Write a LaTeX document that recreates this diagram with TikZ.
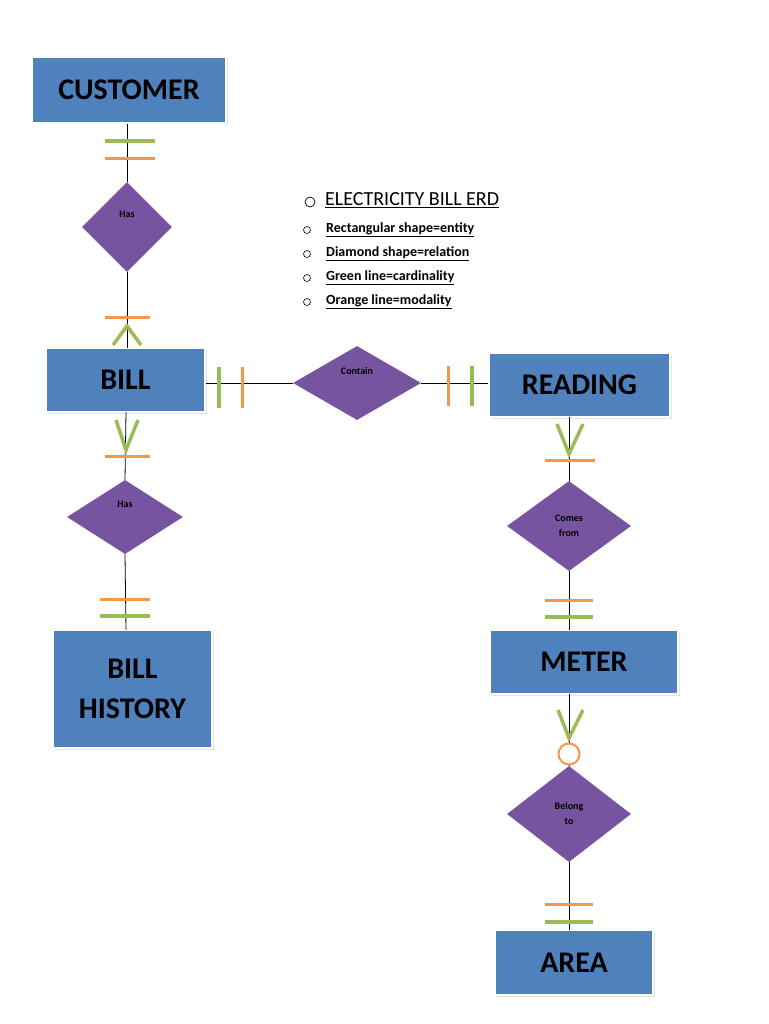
\documentclass[tikz,border=0pt]{standalone}
\usepackage{fontspec}
\setmainfont{Carlito}
\usetikzlibrary{shapes.geometric,shadows}
\definecolor{ent}{HTML}{4F81BD}
\definecolor{rel}{HTML}{7654A0}
\definecolor{gbar}{HTML}{9BBB59}
\definecolor{obar}{HTML}{F79646}
\begin{document}
\begin{tikzpicture}[x=1pt,y=-1pt,
  entity/.style={rectangle,fill=ent,draw=white,line width=2.5pt,inner sep=0pt,
    drop shadow={shadow xshift=2pt,shadow yshift=-2pt,fill=gray!45},
    font=\fontsize{30}{36}\selectfont\bfseries,align=center},
  relation/.style={diamond,fill=rel,draw=none,inner sep=0pt,aspect=1,
    font=\fontsize{10}{15}\selectfont\bfseries,align=center},
  conn/.style={draw=black,line width=0.8pt},
  gb/.style={draw=gbar,line width=3.5pt},
  ob/.style={draw=obar,line width=3pt},
  crow/.style={draw=gbar,line width=3.5pt}]
\useasboundingbox (0,0) rectangle (768,1024);
\fill[white] (0,0) rectangle (768,1024);
% entities
\node[entity,minimum width=194pt,minimum height=67pt] (cust) at (129,90) {CUSTOMER};
\node[entity,minimum width=159pt,minimum height=64pt] (bill) at (125.5,380) {BILL};
\node[entity,minimum width=181pt,minimum height=64pt] (read) at (579.5,385) {READING};
\node[entity,minimum width=159pt,minimum height=118pt] (hist) at (132.5,689) {BILL\\[4pt]HISTORY};
\node[entity,minimum width=188pt,minimum height=64pt] (meter) at (584,662) {METER};
\node[entity,minimum width=158pt,minimum height=65pt] (area) at (574,962.5) {AREA};
% relations
\node[relation,minimum width=90pt,minimum height=90pt] (has1) at (127,227) {Has\\[10pt]};
\node[relation,minimum width=116pt,minimum height=74pt] (has2) at (125,517) {Has\\[10pt]};
\node[relation,minimum width=128pt,minimum height=74pt] (cont) at (357,383) {Contain\\[10pt]};
\node[relation,minimum width=124pt,minimum height=90pt] (comes) at (569,526) {Comes\\from};
\node[relation,minimum width=124pt,minimum height=96pt] (belong) at (569,814) {Belong\\to};
\coordinate (mb) at (569,694);
\coordinate (rb) at (569,417);
% connectors
\draw[conn] (127,124) -- (has1.north);
\draw[conn] (has1.south) -- (127,348);
\draw[conn] (126,412) -- (has2.north);
\draw[conn] (has2.south) -- (126,630);
\draw[conn] (bill.east |- cont.west) -- (cont.west);
\draw[conn] (cont.east) -- (read.west |- cont.east);
\draw[conn] (rb) -- (comes.north);
\draw[conn] (comes.south) -- (569,630);
\draw[conn] (mb) -- (belong.north);
\draw[conn] (belong.south) -- (569,930);
% customer - has
\draw[gb] (105,141) -- (155,141);
\draw[ob] (105,159) -- (155,159);
% has - bill
\draw[ob] (105,317) -- (150,317);
\draw[crow] (113,345) -- (127,326) -- (141,345);
% bill - has2
\draw[crow] (116,420) -- (126,450) -- (138,420);
\draw[ob] (105,456) -- (150,456);
\draw[ob] (100,599) -- (150,599);
\draw[gb] (100,616) -- (150,616);
% bill - contain - reading
\draw[gb] (219,367) -- (219,408);
\draw[ob] (242,367) -- (242,408);
\draw[ob] (448,366) -- (448,406);
\draw[gb] (472,366) -- (472,406);
% reading - comes
\draw[crow] (557,424) -- (569,454) -- (583,424);
\draw[ob] (545,460) -- (595,460);
\draw[ob] (545,600) -- (593,600);
\draw[gb] (545,617) -- (593,617);
% meter - belong
\draw[crow] (558,710) -- (569,738) -- (583,710);
\draw[obar,line width=2pt,fill=white] (569,754) circle (10.5);
\draw[ob] (545,904) -- (593,904);
\draw[gb] (545,922) -- (593,922);
% legend
\draw[line width=0.7pt] (310,202) circle (5);
\node[anchor=west,inner sep=0pt,font=\fontsize{20}{24}\selectfont] (title) at (325,200) {\underline{ELECTRICITY BILL ERD}};
\foreach \yy/\tt [count=\i] in {230/Rectangular shape=entity,254/Diamond shape=relation,278/Green line=cardinality,302/Orange line=modality}{
  \draw[line width=0.6pt] (307,\yy) circle (3.5);
  \node[anchor=west,inner sep=0pt,font=\fontsize{14}{17}\selectfont\bfseries] (leg\i) at (326,\yy) {\underline{\tt}};
}
\end{tikzpicture}
\end{document}
